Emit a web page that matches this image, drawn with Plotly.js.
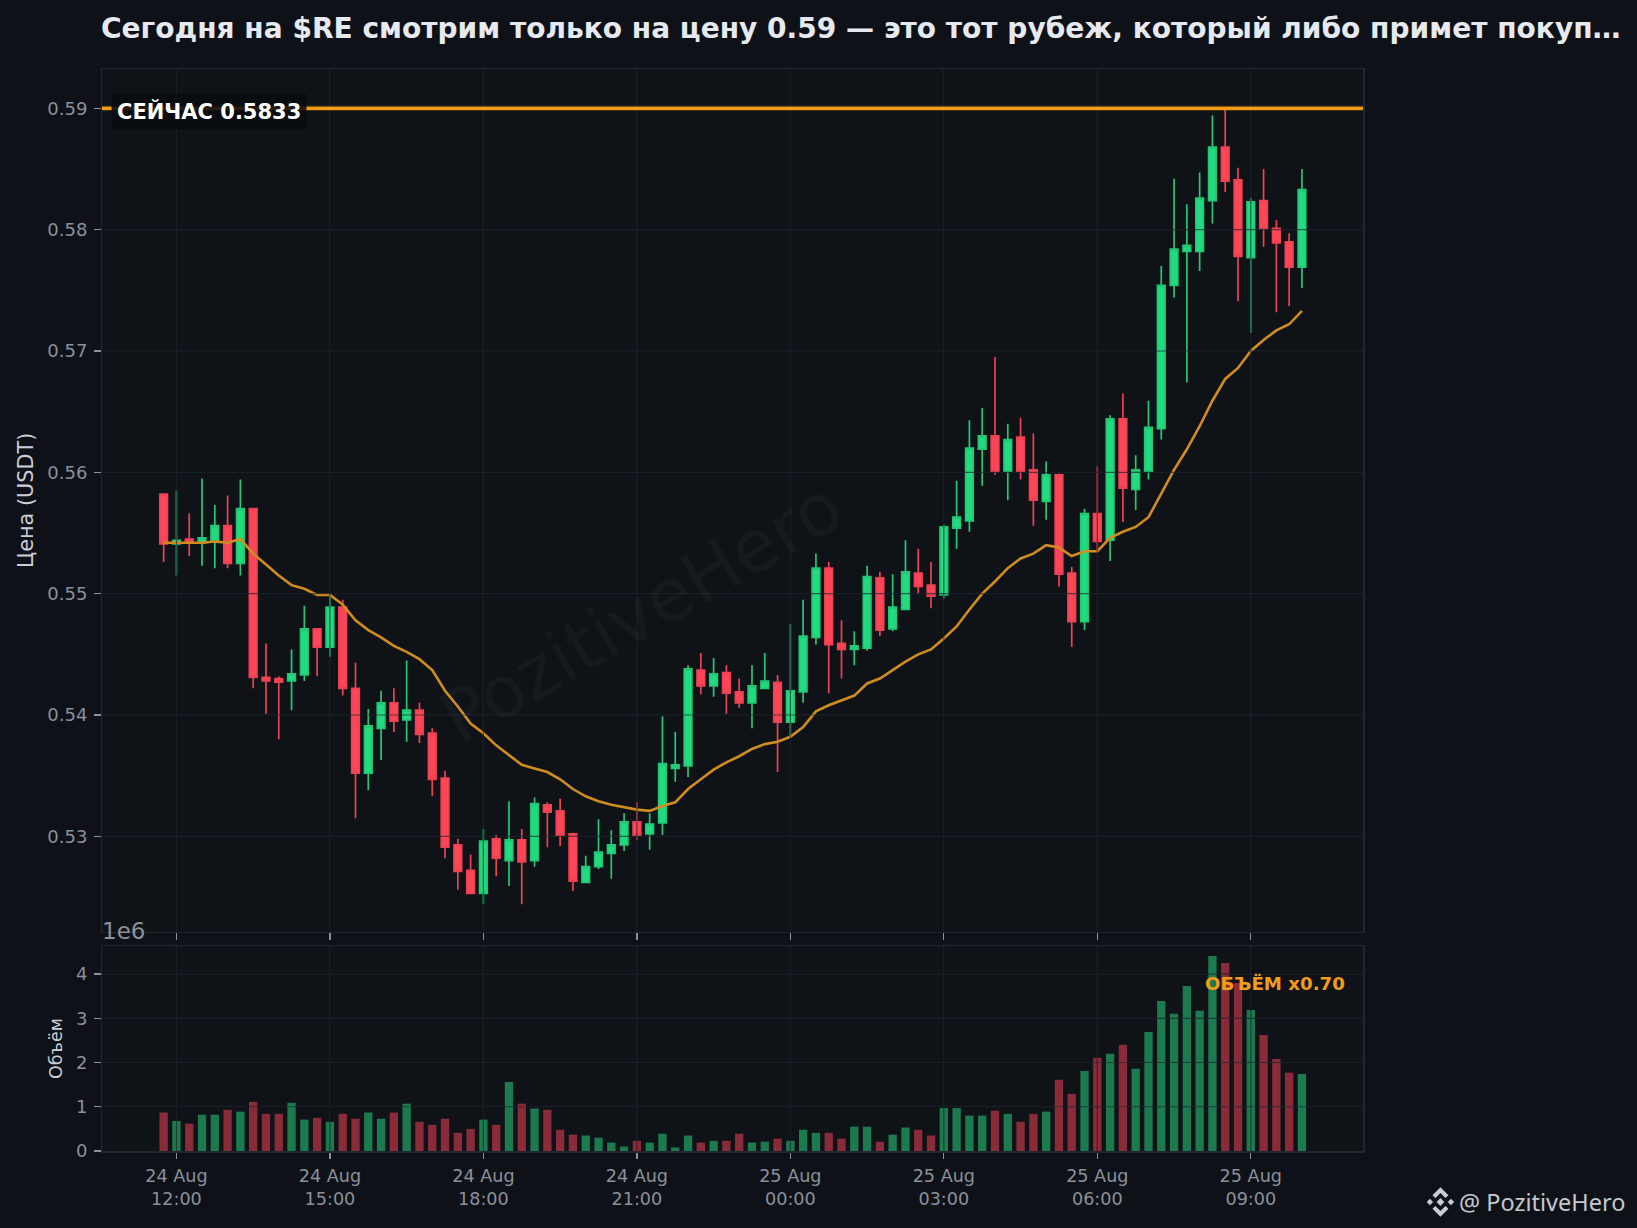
<!DOCTYPE html>
<html>
<head>
<meta charset="utf-8">
<script src="https://cdn.plot.ly/plotly-3.0.1.min.js"></script>
<style>html,body{margin:0;padding:0;background:#0e1218}</style>
</head>
<body>
<div id="chart" style="width:1637px;height:1228px"></div>
<script>
const times = [
"2025-08-24 11:45","2025-08-24 12:00","2025-08-24 12:15","2025-08-24 12:30","2025-08-24 12:45","2025-08-24 13:00","2025-08-24 13:15","2025-08-24 13:30","2025-08-24 13:45","2025-08-24 14:00",
"2025-08-24 14:15","2025-08-24 14:30","2025-08-24 14:45","2025-08-24 15:00","2025-08-24 15:15","2025-08-24 15:30","2025-08-24 15:45","2025-08-24 16:00","2025-08-24 16:15","2025-08-24 16:30",
"2025-08-24 16:45","2025-08-24 17:00","2025-08-24 17:15","2025-08-24 17:30","2025-08-24 17:45","2025-08-24 18:00","2025-08-24 18:15","2025-08-24 18:30","2025-08-24 18:45","2025-08-24 19:00",
"2025-08-24 19:15","2025-08-24 19:30","2025-08-24 19:45","2025-08-24 20:00","2025-08-24 20:15","2025-08-24 20:30","2025-08-24 20:45","2025-08-24 21:00","2025-08-24 21:15","2025-08-24 21:30",
"2025-08-24 21:45","2025-08-24 22:00","2025-08-24 22:15","2025-08-24 22:30","2025-08-24 22:45","2025-08-24 23:00","2025-08-24 23:15","2025-08-24 23:30","2025-08-24 23:45","2025-08-25 00:00",
"2025-08-25 00:15","2025-08-25 00:30","2025-08-25 00:45","2025-08-25 01:00","2025-08-25 01:15","2025-08-25 01:30","2025-08-25 01:45","2025-08-25 02:00","2025-08-25 02:15","2025-08-25 02:30",
"2025-08-25 02:45","2025-08-25 03:00","2025-08-25 03:15","2025-08-25 03:30","2025-08-25 03:45","2025-08-25 04:00","2025-08-25 04:15","2025-08-25 04:30","2025-08-25 04:45","2025-08-25 05:00",
"2025-08-25 05:15","2025-08-25 05:30","2025-08-25 05:45","2025-08-25 06:00","2025-08-25 06:15","2025-08-25 06:30","2025-08-25 06:45","2025-08-25 07:00","2025-08-25 07:15","2025-08-25 07:30",
"2025-08-25 07:45","2025-08-25 08:00","2025-08-25 08:15","2025-08-25 08:30","2025-08-25 08:45","2025-08-25 09:00","2025-08-25 09:15","2025-08-25 09:30","2025-08-25 09:45","2025-08-25 10:00"];

const open = [
.5582,.5541,.5545,.5542,.5544,.5556,.5525,.5570,.5431,.5430,
.5428,.5433,.5471,.5456,.5489,.5422,.5352,.5389,.5410,.5396,
.5404,.5385,.5348,.5293,.5272,.5253,.5298,.5280,.5297,.5280,
.5326,.5321,.5302,.5262,.5275,.5286,.5293,.5312,.5302,.5311,
.5356,.5358,.5437,.5424,.5435,.5419,.5410,.5422,.5427,.5394,
.5419,.5464,.5521,.5459,.5454,.5455,.5513,.5471,.5487,.5517,
.5507,.5499,.5554,.5560,.5619,.5630,.5601,.5629,.5602,.5576,
.5598,.5517,.5477,.5566,.5544,.5644,.5586,.5601,.5636,.5754,
.5782,.5782,.5824,.5868,.5841,.5777,.5824,.5801,.5790,.5769];

const high = [
.5582,.5585,.5566,.5595,.5573,.5581,.5594,.5570,.5459,.5432,
.5454,.5490,.5471,.5500,.5495,.5443,.5405,.5420,.5422,.5445,
.5410,.5389,.5354,.5298,.5285,.5306,.5301,.5329,.5306,.5332,
.5328,.5331,.5303,.5284,.5314,.5305,.5319,.5328,.5319,.5399,
.5386,.5441,.5451,.5447,.5441,.5430,.5441,.5451,.5433,.5475,
.5495,.5533,.5526,.5478,.5469,.5523,.5518,.5516,.5544,.5537,
.5526,.5557,.5593,.5643,.5653,.5695,.5640,.5645,.5632,.5609,
.5599,.5522,.5570,.5605,.5647,.5665,.5614,.5659,.5770,.5842,
.5821,.5847,.5894,.5900,.5851,.5826,.5850,.5808,.5797,.5850];

const low = [
.5526,.5515,.5531,.5523,.5521,.5521,.5515,.5422,.5401,.5380,
.5404,.5428,.5432,.5448,.5416,.5315,.5338,.5363,.5386,.5378,
.5377,.5333,.5282,.5256,.5253,.5244,.5267,.5259,.5244,.5275,
.5291,.5292,.5255,.5262,.5273,.5265,.5288,.5297,.5289,.5301,
.5345,.5349,.5417,.5415,.5401,.5406,.5389,.5422,.5353,.5382,
.5410,.5458,.5418,.5430,.5441,.5453,.5465,.5469,.5487,.5500,
.5488,.5496,.5537,.5551,.5589,.5598,.5577,.5594,.5556,.5561,
.5506,.5456,.5470,.5536,.5527,.5559,.5569,.5594,.5627,.5744,
.5674,.5766,.5805,.5831,.5741,.5715,.5786,.5732,.5737,.5752];

const close = [
.5541,.5544,.5542,.5546,.5556,.5525,.5570,.5431,.5428,.5427,
.5434,.5471,.5456,.5489,.5422,.5352,.5391,.5410,.5395,.5404,
.5384,.5347,.5291,.5271,.5253,.5296,.5282,.5297,.5279,.5327,
.5320,.5301,.5263,.5275,.5287,.5293,.5312,.5301,.5310,.5360,
.5359,.5438,.5424,.5434,.5418,.5410,.5424,.5428,.5394,.5420,
.5465,.5521,.5458,.5454,.5457,.5514,.5470,.5489,.5518,.5506,
.5498,.5555,.5563,.5620,.5630,.5601,.5627,.5601,.5577,.5598,
.5516,.5477,.5566,.5543,.5644,.5587,.5602,.5637,.5754,.5784,
.5787,.5826,.5868,.5840,.5778,.5823,.5801,.5789,.5769,.5833];

const ema = [
.5542,.5542,.5542,.5542,.5543,.5542,.5545,.5533,.5524,.5515,
.5507,.5504,.5499,.5499,.5491,.5478,.5470,.5464,.5457,.5452,
.5446,.5437,.5420,.5407,.5393,.5385,.5375,.5367,.5359,.5356,
.5353,.5347,.5339,.5333,.5329,.5326,.5324,.5322,.5321,.5325,
.5328,.5339,.5347,.5355,.5361,.5366,.5372,.5376,.5378,.5382,
.5390,.5403,.5408,.5412,.5416,.5426,.5430,.5437,.5444,.5450,
.5454,.5463,.5473,.5487,.5500,.5510,.5521,.5529,.5533,.5540,
.5538,.5531,.5535,.5535,.5546,.5551,.5555,.5563,.5583,.5602,
.5619,.5638,.5659,.5677,.5686,.5700,.5709,.5717,.5722,.5733];

const volumeMillions = [
.87,.68,.62,.82,.82,.93,.89,1.11,.84,.84,
1.09,.71,.75,.66,.84,.73,.87,.73,.87,1.07,
.66,.59,.73,.41,.50,.71,.59,1.56,1.07,.96,
.93,.48,.37,.35,.30,.19,.10,.23,.19,.39,
.08,.35,.19,.23,.23,.39,.19,.21,.28,.23,
.48,.41,.41,.28,.55,.55,.21,.37,.53,.48,
.35,.97,.97,.80,.80,.91,.84,.66,.84,.89,
1.61,1.29,1.81,2.11,2.20,2.40,1.86,2.69,3.39,3.10,
3.73,3.17,4.41,4.25,3.80,3.19,2.62,2.08,1.77,1.74];

const priceTicks = [0.53,0.54,0.55,0.56,0.57,0.58,0.59];
const volumeTicks = [0,1,2,3,4];
const timeTickVals = ["2025-08-24 12:00","2025-08-24 15:00","2025-08-24 18:00","2025-08-24 21:00","2025-08-25 00:00","2025-08-25 03:00","2025-08-25 06:00","2025-08-25 09:00"];
const timeTickText = ["24 Aug<br>12:00","24 Aug<br>15:00","24 Aug<br>18:00","24 Aug<br>21:00","25 Aug<br>00:00","25 Aug<br>03:00","25 Aug<br>06:00","25 Aug<br>09:00"];
const levelPrice = 0.59;
const titleText = "Сегодня на $RE смотрим только на цену 0.59 — это тот рубеж, который либо примет покуп…";

const FONT = "DejaVu Sans";
const BG = "#0e1218", PANEL = "#0f1318", GRID = "#1a1f26", SPINE = "#20272f", TICK = "#8b9099";
const UP = "#22db80", DOWN = "#ff4658", UPE = "#21c875", DOWNE = "#ee4254";
const W = 1637, H = 1228, L = 101.5, R = 1363.5, T = 69, B = 1151, PB = 931.7, VT = 946;
const px = X => (X - L) / (R - L), py = Y => (B - Y) / (B - T);

const candle = {
  type: "candlestick", x: times, open, high, low, close, xaxis: "x", yaxis: "y",
  increasing: {line: {color: UPE, width: 1.7}, fillcolor: UP},
  decreasing: {line: {color: DOWNE, width: 1.7}, fillcolor: DOWN},
  whiskerwidth: 0, hoverinfo: "skip", showlegend: false
};
const emaLine = {
  type: "scatter", mode: "lines", x: times, y: ema, xaxis: "x", yaxis: "y",
  line: {color: "#d08c1f", width: 2.6}, hoverinfo: "skip", showlegend: false
};
const volume = {
  type: "bar", x: times, y: volumeMillions, xaxis: "x2", yaxis: "y2",
  width: 0.65 * 15 * 60 * 1000,
  marker: {color: close.map((c, i) => c >= open[i] ? "#1c7a4f" : "#8a2b3a"), line: {width: 0}},
  hoverinfo: "skip", showlegend: false
};

const gridAbove = "rgba(26,31,38,0.65)";
const shapes = [];
priceTicks.forEach(v => shapes.push({type:"line", layer:"above", xref:"x domain", yref:"y", x0:0, x1:1, y0:v, y1:v, line:{color:gridAbove, width:1.2}}));
volumeTicks.slice(1).forEach(v => shapes.push({type:"line", layer:"above", xref:"x2 domain", yref:"y2", x0:0, x1:1, y0:v, y1:v, line:{color:gridAbove, width:1.2}}));
timeTickVals.forEach(t => {
  shapes.push({type:"line", layer:"above", xref:"x", yref:"y domain", x0:t, x1:t, y0:0, y1:1, line:{color:gridAbove, width:1.2}});
  shapes.push({type:"line", layer:"above", xref:"x2", yref:"y2 domain", x0:t, x1:t, y0:0, y1:1, line:{color:gridAbove, width:1.2}});
});
shapes.push({type:"line", layer:"above", xref:"x domain", yref:"y", x0:0, x1:1, y0:levelPrice, y1:levelPrice, line:{color:"rgba(243,156,18,0.3)", width:5}});
shapes.push({type:"line", layer:"above", xref:"x domain", yref:"y", x0:0, x1:1, y0:levelPrice, y1:levelPrice, line:{color:"#f39c18", width:3.3}});

const logo = "data:image/svg+xml," + encodeURIComponent(
  '<svg xmlns="http://www.w3.org/2000/svg" viewBox="0 0 28 28"><g fill="#c9ccd0">' +
  '<polygon points="14,10.6 17.4,14 14,17.4 10.6,14"/><polygon points="4.8,11.2 7.6,14 4.8,16.8 2,14"/><polygon points="23.2,11.2 26,14 23.2,16.8 20.4,14"/>' +
  '<polygon points="14,1 21,8 18.4,10.6 14,6.2 9.6,10.6 7,8"/><polygon points="14,27 21,20 18.4,17.4 14,21.8 9.6,17.4 7,20"/></g></svg>');

const axisCommon = {
  showgrid: true, gridcolor: GRID, gridwidth: 1, zeroline: false,
  showline: true, linecolor: SPINE, linewidth: 1.5, mirror: true,
  ticks: "outside", tickcolor: TICK, tickwidth: 1.3, ticklen: 6.5,
  tickfont: {family: FONT, size: 18, color: TICK}
};

const layout = {
  width: W, height: H, autosize: false,
  paper_bgcolor: BG, plot_bgcolor: PANEL,
  margin: {l: L, r: W - R, t: T, b: H - B, pad: 0},
  showlegend: false, boxgap: 0.15, bargap: 0.3,
  font: {family: FONT},
  title: {text: titleText, x: 101 / W, xanchor: "left", xref: "container", y: 1 - 28 / H, yanchor: "middle", yref: "container",
          font: {family: FONT, size: 28.06, weight: 700, color: "#e6e9ef"}},
  xaxis: Object.assign({}, axisCommon, {type: "date", domain: [0, 1], anchor: "y", range: ["2025-08-24 10:32:42", "2025-08-25 11:11:36"],
    tickmode: "array", tickvals: timeTickVals, ticktext: timeTickText, showticklabels: false, rangeslider: {visible: false}}),
  xaxis2: Object.assign({}, axisCommon, {type: "date", domain: [0, 1], anchor: "y2", matches: "x", range: ["2025-08-24 10:32:42", "2025-08-25 11:11:36"],
    tickmode: "array", tickvals: timeTickVals, ticktext: timeTickText, ticklabelstandoff: 2, tickfont: {family: FONT, size: 17.6, color: TICK}, rangeslider: {visible: false}}),
  yaxis: Object.assign({}, axisCommon, {domain: [py(PB), 1], anchor: "x", range: [0.52214, 0.59324], tickmode: "array", tickvals: priceTicks, ticklabelstandoff: 3,
    ticktext: priceTicks.map(v => v.toFixed(2)), title: {text: "Цена (USDT)", standoff: 8, font: {family: FONT, size: 20.8, color: "#c9ced6"}}}),
  yaxis2: Object.assign({}, axisCommon, {domain: [0, py(VT)], anchor: "x2", range: [0, 4.634], tickmode: "array", tickvals: volumeTicks, ticklabelstandoff: 3,
    ticktext: volumeTicks.map(String), title: {text: "Объём", standoff: 9, font: {family: FONT, size: 17.5, color: "#c9ced6"}}}),
  shapes,
  images: [{source: logo, xref: "paper", yref: "paper", x: px(1425), y: py(1186), sizex: 32 / (R - L), sizey: 32 / (B - T), sizing: "contain", xanchor: "left", yanchor: "top", layer: "above"}],
  annotations: [
    {xref:"x domain", yref:"y", x:px(111), y:levelPrice, xanchor:"left", yanchor:"middle", yshift:-3, showarrow:false, text:"<b>СЕЙЧАС 0.5833</b>",
     font:{family:FONT, size:21, color:"#ffffff"}, bgcolor:"rgba(9,11,15,0.88)", borderpad:5},
    {xref:"paper", yref:"paper", x:px(99), y:py(931), xanchor:"left", yanchor:"middle", showarrow:false, text:"1e6",
     font:{family:FONT, size:23, color:TICK}},
    {xref:"paper", yref:"paper", x:px(1347), y:py(983), xanchor:"right", yanchor:"middle", showarrow:false, text:"<b>ОБЪЁМ x0.70</b>",
     font:{family:FONT, size:18.2, color:"#f39c18"}},
    {xref:"paper", yref:"paper", x:px(641), y:py(612), xanchor:"center", yanchor:"middle", showarrow:false, textangle:-30, text:"PozitiveHero",
     font:{family:FONT, size:72, color:"rgba(255,255,255,0.03)"}},
    {xref:"paper", yref:"paper", x:px(1458), y:py(1202), xanchor:"left", yanchor:"middle", showarrow:false, text:"@ PozitiveHero",
     font:{family:"Noto Sans", size:23.5, color:"#c5c8cc"}}
  ]
};

Plotly.newPlot("chart", [candle, emaLine, volume], layout, {staticPlot: true, displayModeBar: false});
</script>
</body>
</html>
